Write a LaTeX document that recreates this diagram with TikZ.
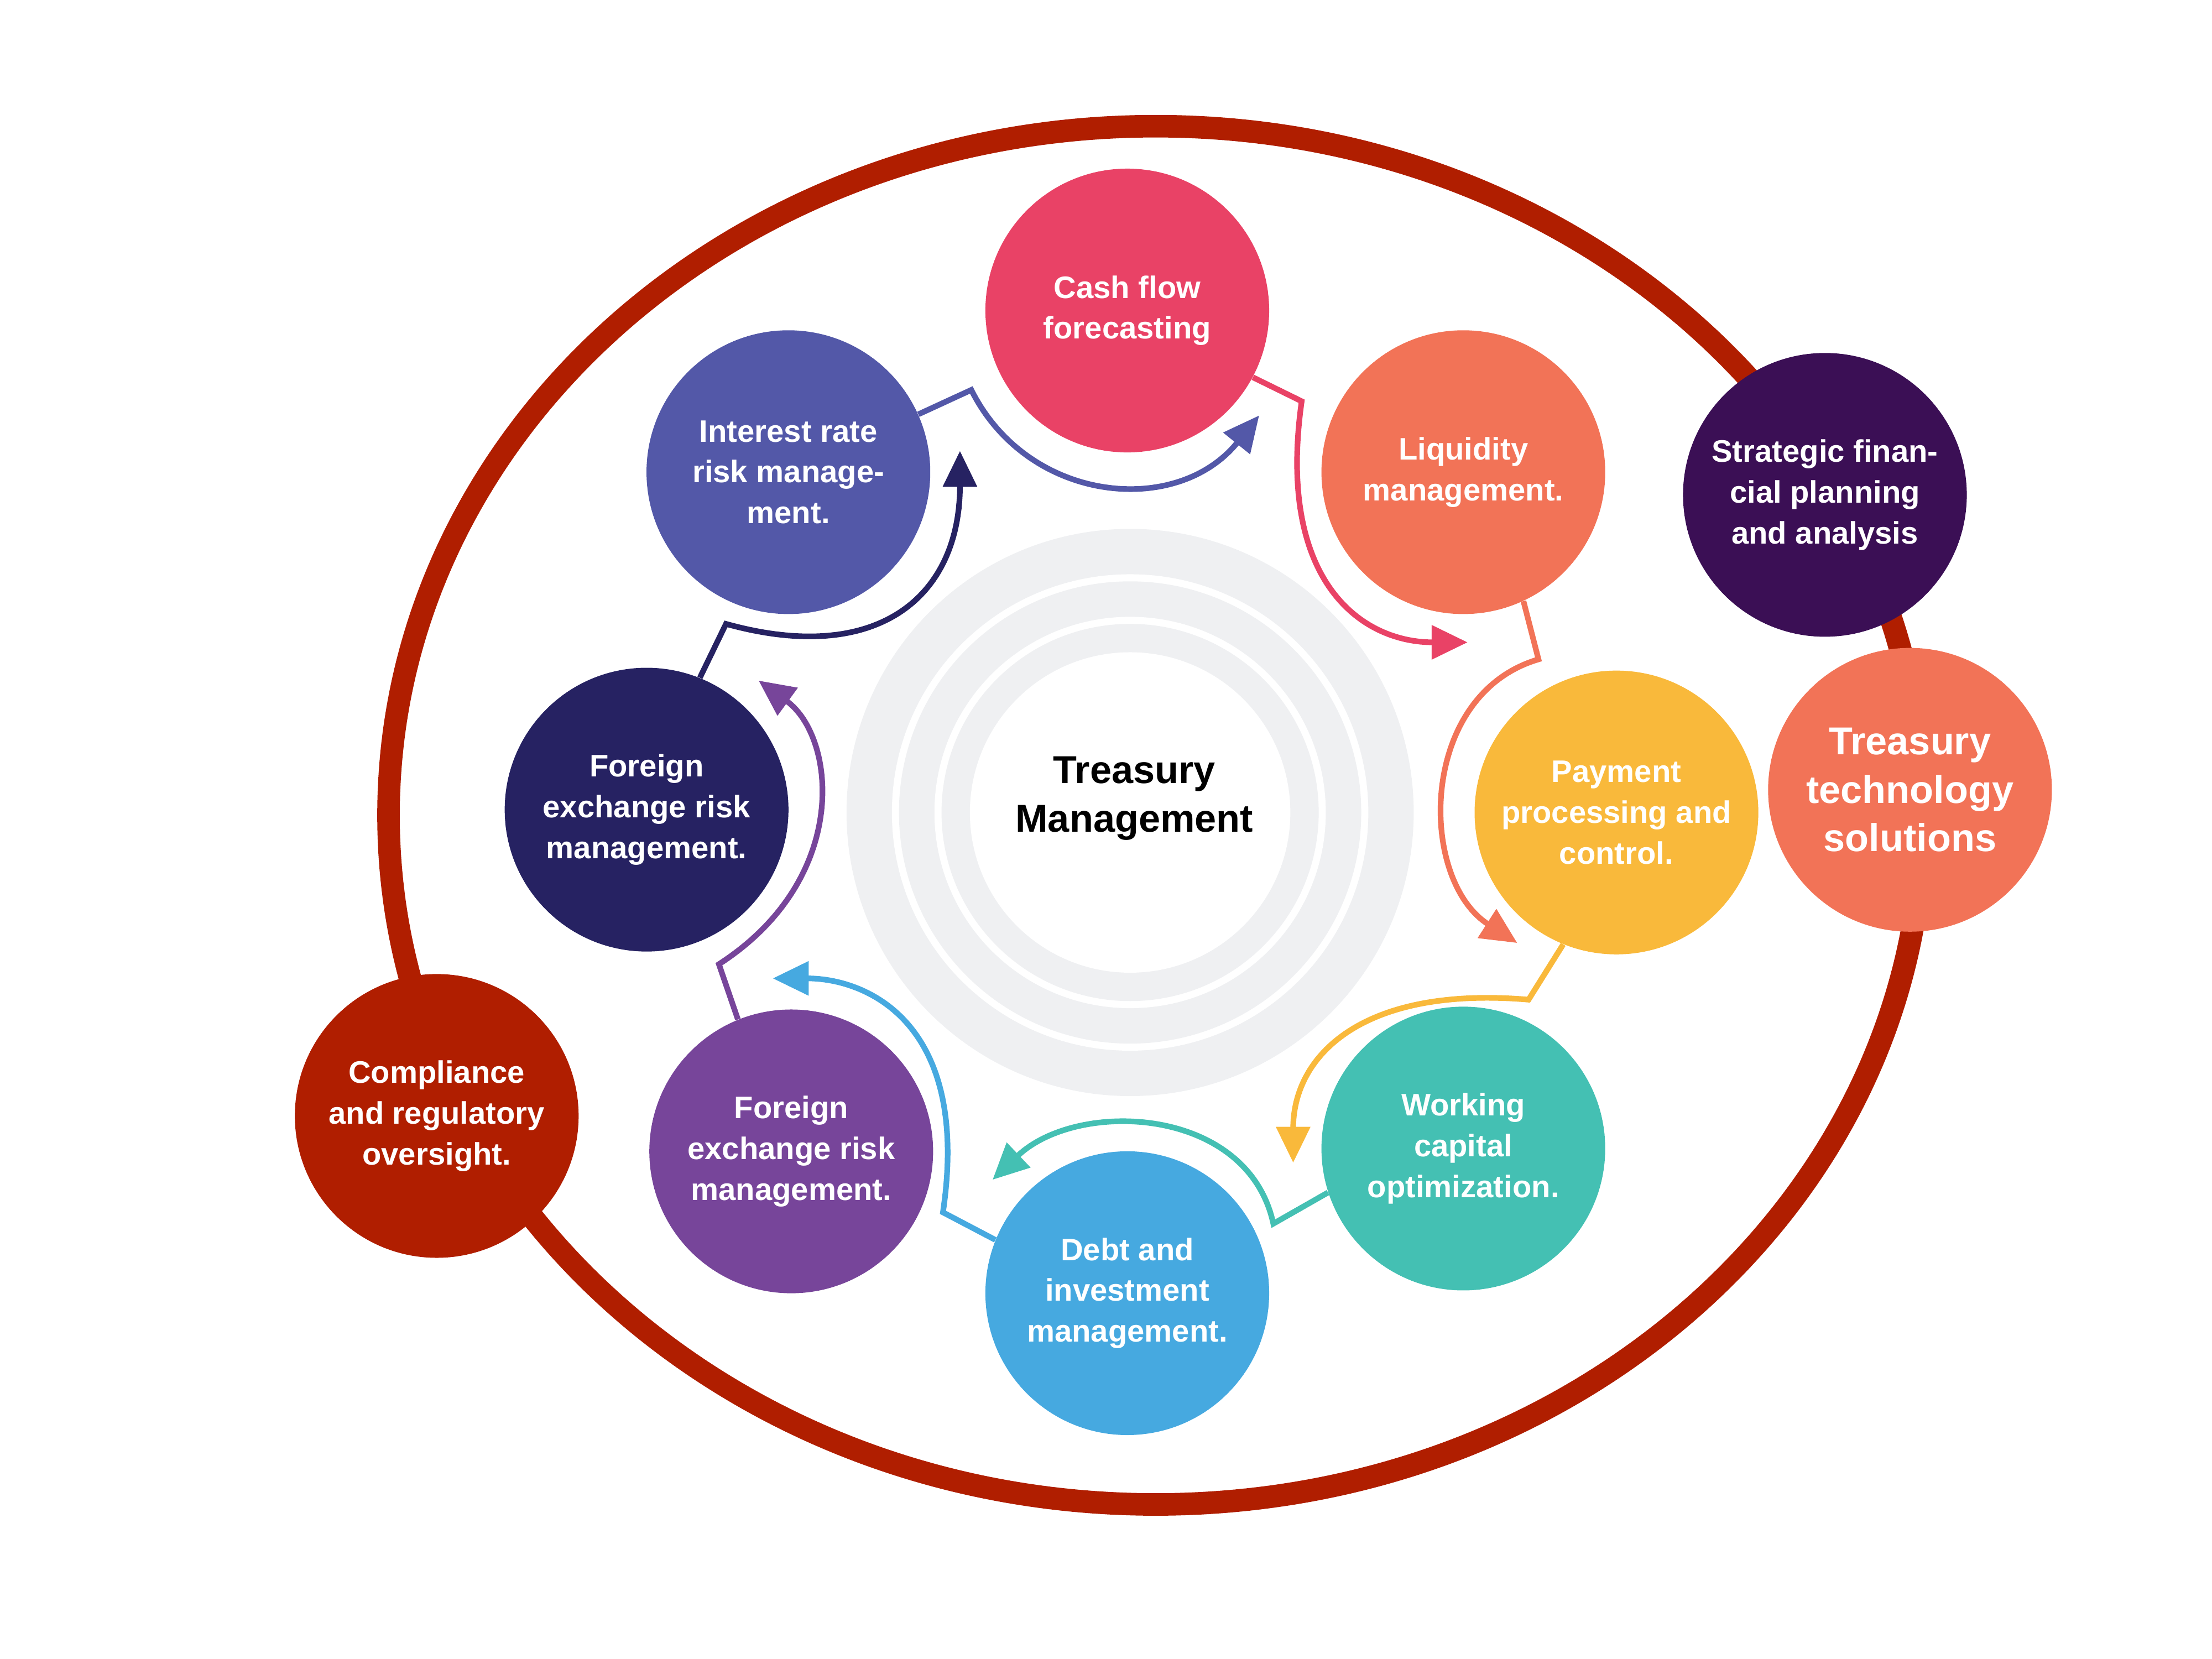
\documentclass[tikz,border=0pt]{standalone}
\usepackage{fontspec}
\setmainfont{Liberation Sans}
\usetikzlibrary{arrows.meta}
\definecolor{cred}{HTML}{B01E00}
\definecolor{cpink}{HTML}{E94266}
\definecolor{corange}{HTML}{F27357}
\definecolor{cyellow}{HTML}{F9B93B}
\definecolor{cteal}{HTML}{44C0B3}
\definecolor{cblue}{HTML}{46A9E0}
\definecolor{cpurple}{HTML}{77459A}
\definecolor{cnavy}{HTML}{262262}
\definecolor{cindigo}{HTML}{5358A8}
\definecolor{cplum}{HTML}{3B0F55}
\definecolor{cgrey}{HTML}{EFF0F2}
\begin{document}
\begin{tikzpicture}[x=0.02564cm,y=-0.02564cm,
  bub/.style={circle,minimum size=5.13cm,inner sep=0pt,text=white,font=\bfseries\fontsize{16}{21}\selectfont,align=center},
  con/.style={line width=2.9pt,-{Triangle[length=0.65cm,width=0.6cm]}}]
\useasboundingbox (0,0) rectangle (1560,1170);
\draw[cred,line width=11.6pt] (815,575) ellipse [x radius=541,y radius=486];
% centre rings
\fill[cgrey] (797,573) circle (200);
\fill[white] (797,573) circle (168);
\fill[cgrey] (797,573) circle (163);
\fill[white] (797,573) circle (138);
\fill[cgrey] (797,573) circle (133);
\fill[white] (797,573) circle (113);
\node[font=\bfseries\fontsize{20}{25}\selectfont,align=center] (tm) at (800,563) {Treasury\\Management};
\node[bub,fill=cpink] (cf) at (795,219) {Cash flow\\forecasting};
\node[bub,fill=corange] (lq) at (1032,333) {Liquidity\\management.};
\node[bub,fill=cyellow] (pp) at (1140,573) {Payment\\processing and\\control.};
\node[bub,fill=cteal] (wc) at (1032,810) {Working\\capital\\optimization.};
\node[bub,fill=cblue] (di) at (795,912) {Debt and\\investment\\management.};
\node[bub,fill=cpurple] (fp) at (558,812) {Foreign\\exchange risk\\management.};
\node[bub,fill=cnavy] (fn) at (456,571) {Foreign\\exchange risk\\management.};
\node[bub,fill=cindigo] (ir) at (556,333) {Interest rate\\risk manage-\\ment.};
\node[bub,fill=cplum] (sf) at (1287,349) {Strategic finan-\\cial planning\\and analysis};
\node[bub,fill=corange,font=\bfseries\fontsize{20}{25}\selectfont] (tt) at (1347,557) {Treasury\\technology\\solutions};
\node[bub,fill=cred] (co) at (308,787) {Compliance\\and regulatory\\oversight.};
% connectors
\coordinate (a1) at (1035,453); \coordinate (a2) at (1070,665);
\coordinate (a3) at (912,820); \coordinate (a4) at (700,832);
\coordinate (a5) at (545,690); \coordinate (a6) at (535,480);
\coordinate (a7) at (677,318); \coordinate (a8) at (888,293);
\draw[con,cpink] (cf.-28) -- (918,283) .. controls (900,410) and (960,453) .. (a1);
\draw[con,corange] (lq.-65) -- (1085,465) .. controls (1000,490) and (1000,620) .. (a2);
\draw[con,cyellow] (pp.-112) -- (1078,705) .. controls (960,695) and (912,745) .. (a3);
\draw[con,cteal] (wc.198) -- (898,863) .. controls (880,780) and (760,775) .. (a4);
\draw[con,cblue] (di.158) -- (665,855) .. controls (685,720) and (610,690) .. (a5);
\draw[con,cpurple] (fp.112) -- (507,680) .. controls (600,620) and (590,520) .. (a6);
\draw[con,cnavy] (fn.68) -- (512,440) .. controls (620,470) and (677,420) .. (a7);
\draw[con,cindigo] (ir.24) -- (685,275) .. controls (725,355) and (830,365) .. (a8);
\end{tikzpicture}
\end{document}
